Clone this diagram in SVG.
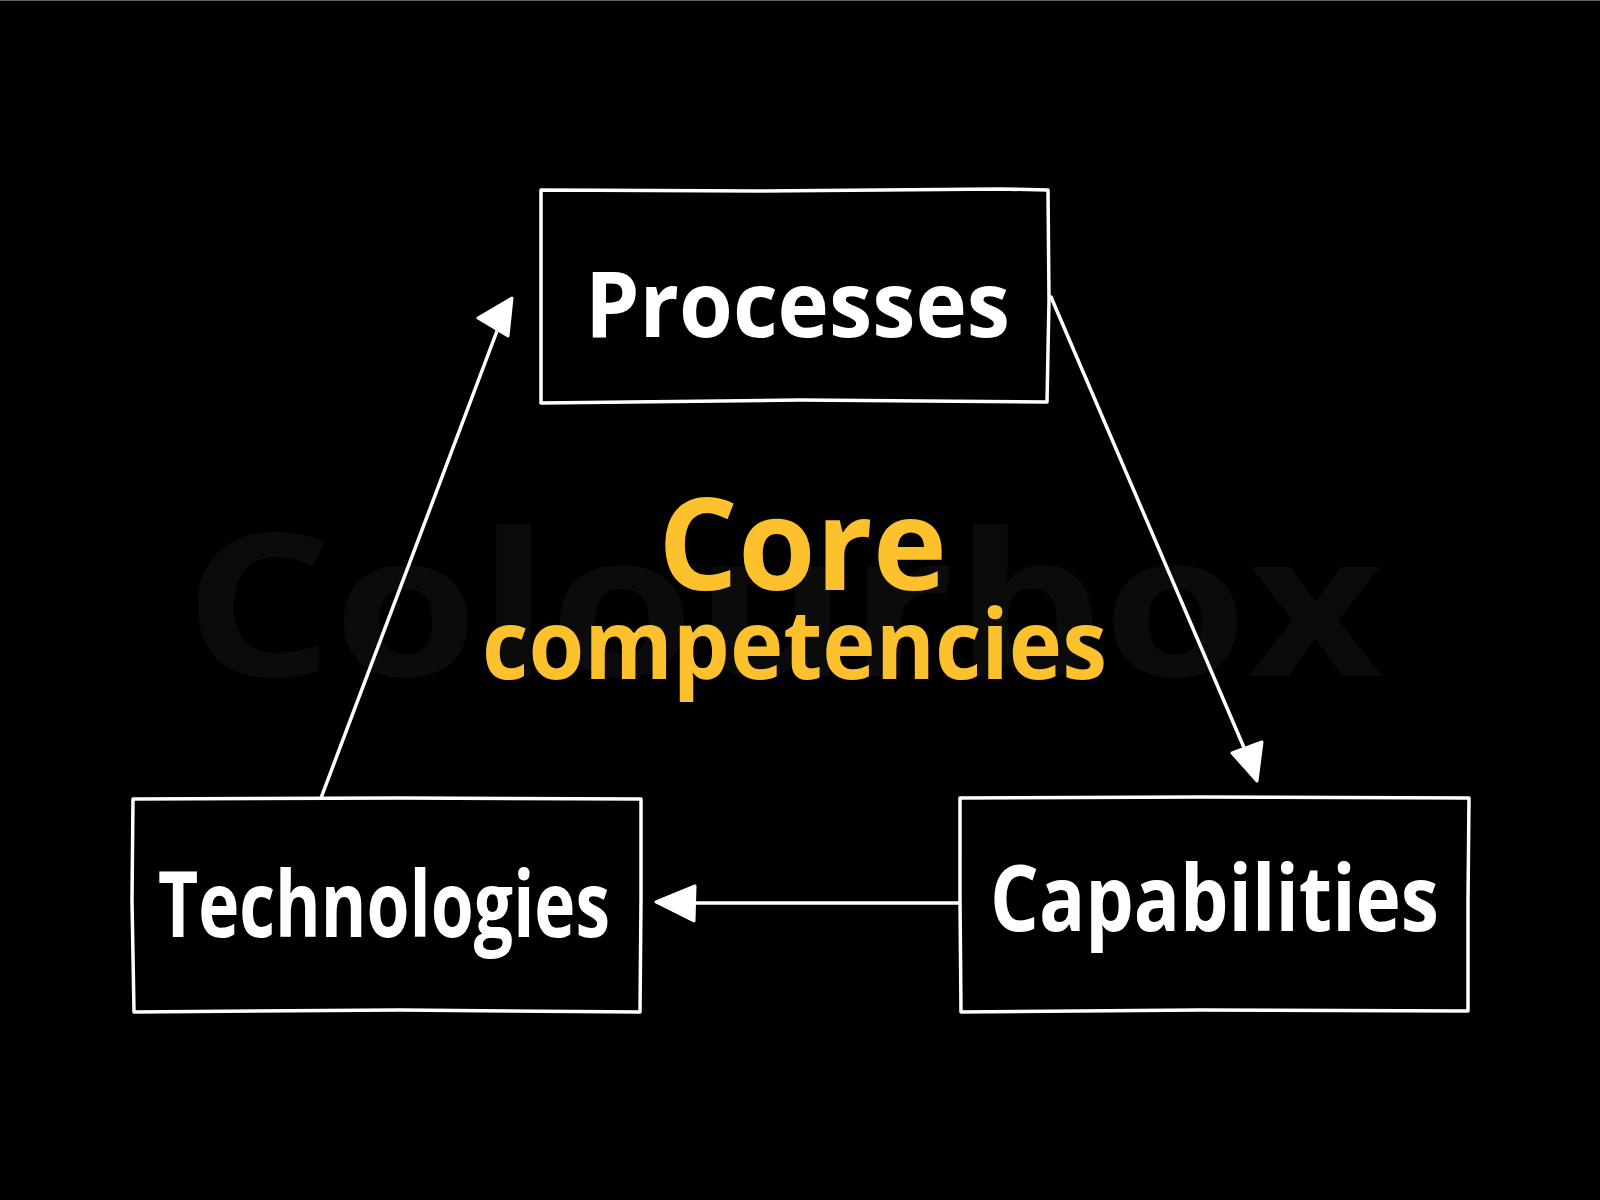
<svg xmlns="http://www.w3.org/2000/svg" width="1600" height="1200" viewBox="0 0 1600 1200">
<defs>
<style>
.box{fill:none;stroke:#fff;stroke-width:3.5;stroke-linejoin:round;stroke-linecap:round}
.lbl{font-family:"Open Sans","DejaVu Sans",sans-serif;font-weight:700;fill:#fff;font-size:92px}
.core{font-family:"Open Sans","DejaVu Sans",sans-serif;font-weight:700;fill:#fcc12d}
.conn{fill:none;stroke:#fff;stroke-width:3.5;stroke-linecap:round}
.wm{font-family:"Open Sans","DejaVu Sans",sans-serif;font-weight:700;fill:#0b0b0b;font-size:200px}
</style>
</defs>
<rect width="1600" height="1200" fill="#000"/>
<line x1="0" y1="0.5" x2="1600" y2="0.5" stroke="#666" stroke-width="1"/>
<text class="wm" x="184" y="676" textLength="1199" lengthAdjust="spacingAndGlyphs">Colourbox</text>

<g id="connectors">
<g id="c-tech-proc">
<line class="conn" x1="321" y1="798" x2="500" y2="323"/>
<path d="M512,298 L478,318 L508,336 Z" fill="#fff" stroke="#fff" stroke-width="3" stroke-linejoin="round"/>
</g>
<g id="c-proc-cap">
<line class="conn" x1="1051" y1="297" x2="1245" y2="750"/>
<path d="M1257,781 L1232,753 L1262,742 Z" fill="#fff" stroke="#fff" stroke-width="3" stroke-linejoin="round"/>
</g>
<g id="c-cap-tech">
<line class="conn" x1="958" y1="903" x2="690" y2="903"/>
<path d="M656,902 L695,886 L694,921 Z" fill="#fff" stroke="#fff" stroke-width="3" stroke-linejoin="round"/>
</g>
</g>

<g id="node-processes">
<path class="box" d="M541,190 L760,191 L1000,189 L1048,190 L1049,300 L1047,402 L800,400 L541,403 L541,300 Z"/>
<text class="lbl" x="585" y="337" textLength="425" lengthAdjust="spacingAndGlyphs">Processes</text>
</g>

<g id="node-technologies">
<path class="box" d="M133,799 L400,798 L641,799 L641,900 L640,1012 L400,1010 L134,1012 L132,900 Z"/>
<text class="lbl" x="158" y="937" textLength="452" lengthAdjust="spacingAndGlyphs">Technologies</text>
</g>

<g id="node-capabilities">
<path class="box" d="M960,798 L1200,797 L1469,798 L1468,900 L1468,1011 L1200,1010 L961,1012 L960,900 Z"/>
<text class="lbl" x="990" y="931" textLength="449" lengthAdjust="spacingAndGlyphs">Capabilities</text>
</g>

<g id="node-core">
<text class="core" x="658" y="590" font-size="128" textLength="289" lengthAdjust="spacingAndGlyphs">Core</text>
<text class="core" x="482" y="679" font-size="96" textLength="625" lengthAdjust="spacingAndGlyphs">competencies</text>
</g>
</svg>
